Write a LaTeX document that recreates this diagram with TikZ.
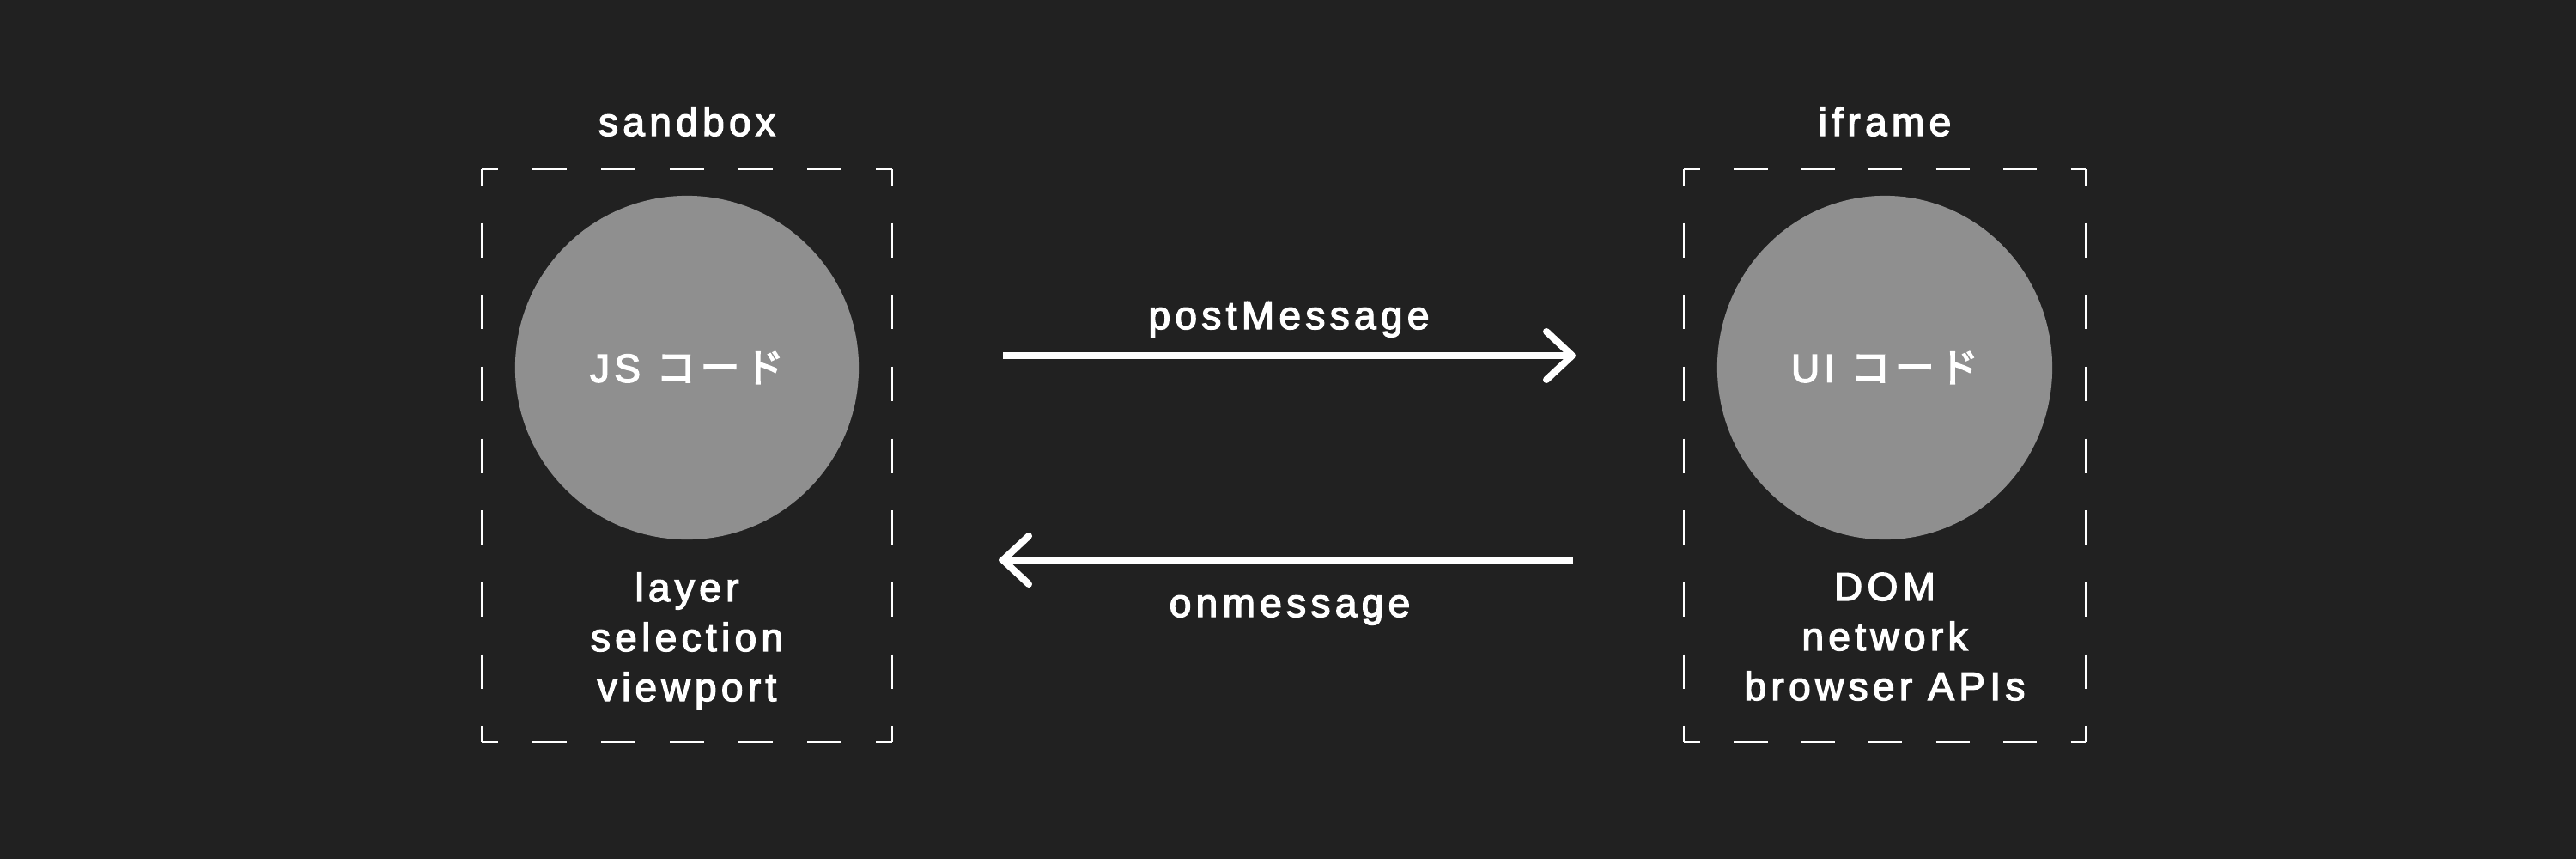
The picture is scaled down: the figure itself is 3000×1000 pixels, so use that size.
\documentclass[tikz,border=0pt]{standalone}
\usepackage{fontspec}
\setmainfont{Liberation Sans}[LetterSpace=11.5, FakeBold=3]
\newfontfamily\jpfont{Noto Sans CJK JP}[LetterSpace=11.5, FakeBold=3.5]
\usetikzlibrary{arrows.meta,shapes.geometric}
\definecolor{bgdark}{HTML}{212121}
\definecolor{blobgray}{HTML}{8F8F8F}

\begin{document}
\begin{tikzpicture}[x=0.01cm, y=-0.01cm, font=\fontsize{13.1}{16.5}\selectfont]
            \tikzstyle{lbl} = [text=white, inner sep=0pt, anchor=base]
            \tikzstyle{blob} = [ellipse, fill=blobgray, text=white, inner sep=0pt]
            \tikzstyle{hdash} = [white, line width=0.02cm, dash pattern=on 0.4cm off 0.4cm, dash phase=0.21cm]
            \tikzstyle{hdashnarrow} = [white, line width=0.02cm, dash pattern=on 0.392cm off 0.392cm, dash phase=0.201cm]
            \tikzstyle{vdash} = [white, line width=0.02cm, dash pattern=on 0.4cm off 0.436cm, dash phase=0.21cm]
            \tikzstyle{msg} = [white, line width=0.08cm, -{Straight Barb[length=0.3cm, width=0.56cm, round]}]

            \useasboundingbox (0,0) rectangle (3000,1000);
            \fill[bgdark] (0,0) rectangle (3000,1000);

            % sandbox side
            \draw[hdash] (561,197) -- (1039,197);
            \draw[hdash] (561,864) -- (1039,864);
            \draw[vdash] (561,197) -- (561,864);
            \draw[vdash] (1039,197) -- (1039,864);
            \node [lbl] (sbTitle) at (800,158) {sandbox};
            \node [blob, minimum width=4cm, minimum height=4cm] (jsCode) at (800,428) {JS {\jpfont コード}};
            \node [lbl, align=center] (sbApi) at (800,816) {layer\\selection\\viewport};

            % iframe side
            \draw[hdashnarrow] (1961,197) -- (2429,197);
            \draw[hdashnarrow] (1961,864) -- (2429,864);
            \draw[vdash] (1961,197) -- (1961,864);
            \draw[vdash] (2429,197) -- (2429,864);
            \node [lbl] (ifTitle) at (2195,158) {iframe};
            \node [blob, minimum width=3.9cm, minimum height=4cm] (uiCode) at (2195,428) {UI {\jpfont コード}};
            \node [lbl, align=center] (ifApi) at (2195,815) {DOM\\network\\browser APIs};

            % messages
            \coordinate (pmFrom) at (1168,414);
            \coordinate (pmTo) at (1835,414);
            \coordinate (omFrom) at (1832,652);
            \coordinate (omTo) at (1164,652);
            \draw[msg] (pmFrom) -- (pmTo);
            \draw[msg] (omFrom) -- (omTo);
            \node [lbl] (pmLabel) at (1501,383) {postMessage};
            \node [lbl] (omLabel) at (1502,718) {onmessage};
\end{tikzpicture}
\end{document}
